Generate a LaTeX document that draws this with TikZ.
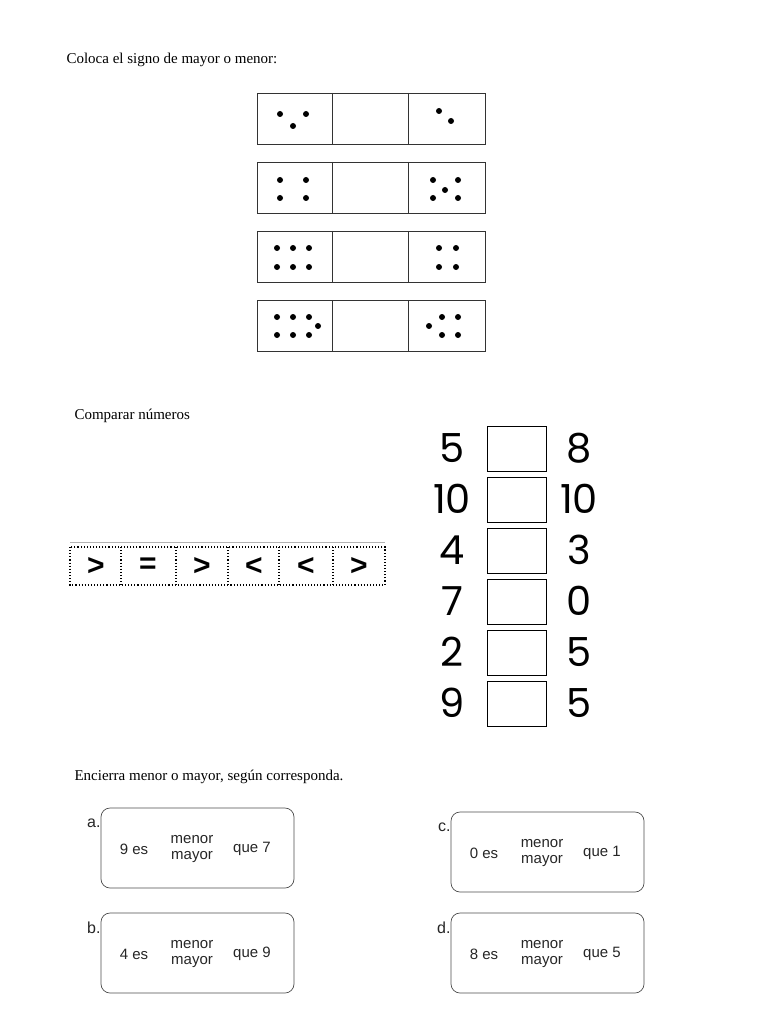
\documentclass[tikz,border=0pt]{standalone}
\usepackage{fontspec}
\setmainfont{Liberation Serif}
\newfontfamily\arialf{Liberation Sans}
\newfontfamily\digf{Poppins}
\begin{document}
\begin{tikzpicture}[x=1pt,y=-1pt,
  dot/.style={circle,fill=black,inner sep=0pt,minimum size=6pt},
  dom/.style={draw=black!80,line width=0.7pt},
  title/.style={anchor=west,font=\fontsize{15}{17}\selectfont},
  sig/.style={font=\fontsize{30}{30}\selectfont\bfseries\arialf},
  num/.style={font=\fontsize{40}{40}\selectfont\digf},
  cbox/.style={draw,line width=1pt,rounded corners=0pt},
  rbox/.style={draw=black!70,line width=0.7pt,rounded corners=9pt},
  btxt/.style={font=\fontsize{15}{16}\selectfont\arialf,text=black!85},
  lbl/.style={font=\fontsize{16}{16}\selectfont\arialf,text=black!85}]
\useasboundingbox (0,0) rectangle (768,1024);
\node[title] (t1) at (63,60) {Coloca el signo de mayor o menor:};
% dominoes
\foreach \y/\n in {93/1,162/2,231/3,300/4}{
  \draw[dom] (257,\y) rectangle (485,\y+51);
  \draw[dom] (332,\y) -- (332,\y+51) (408,\y) -- (408,\y+51);
}
\foreach \p in {(280,114),(306,114),(293,126),(439,111),(451,121),
 (280,180),(306,180),(280,198),(306,198),(433,180),(458,180),(445,190),(433,198),(458,198),
 (277,248),(293,248),(309,248),(277,267),(293,267),(309,267),(439,248),(456,248),(439,267),(456,267),
 (277,317),(293,317),(309,317),(277,335),(293,335),(309,335),(318,326),
 (429,326),(442,317),(458,317),(442,335),(458,335)}
  \node[dot] at \p {};
\node[title] (t2) at (71,416) {Comparar números};
% sign strip
\draw[black!30,line width=0.6pt] (70,542) -- (385,542);
\draw[dotted,line width=1.1pt] (70,547) rectangle (385,585);
\foreach \x in {121,176,228,279,333}{\draw[dotted,line width=1.1pt] (\x,547) -- (\x,585);}
\node[sig] (s1) at (96,566) {>};
\node[sig] (s2) at (148,566) {=};
\node[sig] (s3) at (202,566) {>};
\node[sig] (s4) at (254,566) {<};
\node[sig] (s5) at (306,566) {<};
\node[sig] (s6) at (359,566) {>};
% number comparisons
\foreach \y/\a/\b in {448/5/8,499/10/10,550/4/3,601/7/0,652/2/5,703/9/5}{
  \node[num] at (452,\y) {\a};
  \draw[cbox] (487,\y-22) rectangle (546,\y+23);
  \node[num] at (579,\y) {\b};
}
\node[title] (t3) at (71,777) {Encierra menor o mayor, según corresponda.};
% boxes
\foreach \x/\y/\l/\a/\b in {101/808/a/9/7,101/913/b/4/9,451/812/c/0/1,451/913/d/8/5}{
  \draw[rbox] (\x,\y) rectangle (\x+193,\y+80);
  \node[lbl,anchor=east] at (\x+3,\y+15) {\l.};
  \node[btxt] at (\x+33,\y+41) {\a{} es};
  \node[btxt,align=center] at (\x+91,\y+41) {menor\\mayor};
  \node[btxt] at (\x+151,\y+41) {que \b};
}
\end{tikzpicture}
\end{document}
